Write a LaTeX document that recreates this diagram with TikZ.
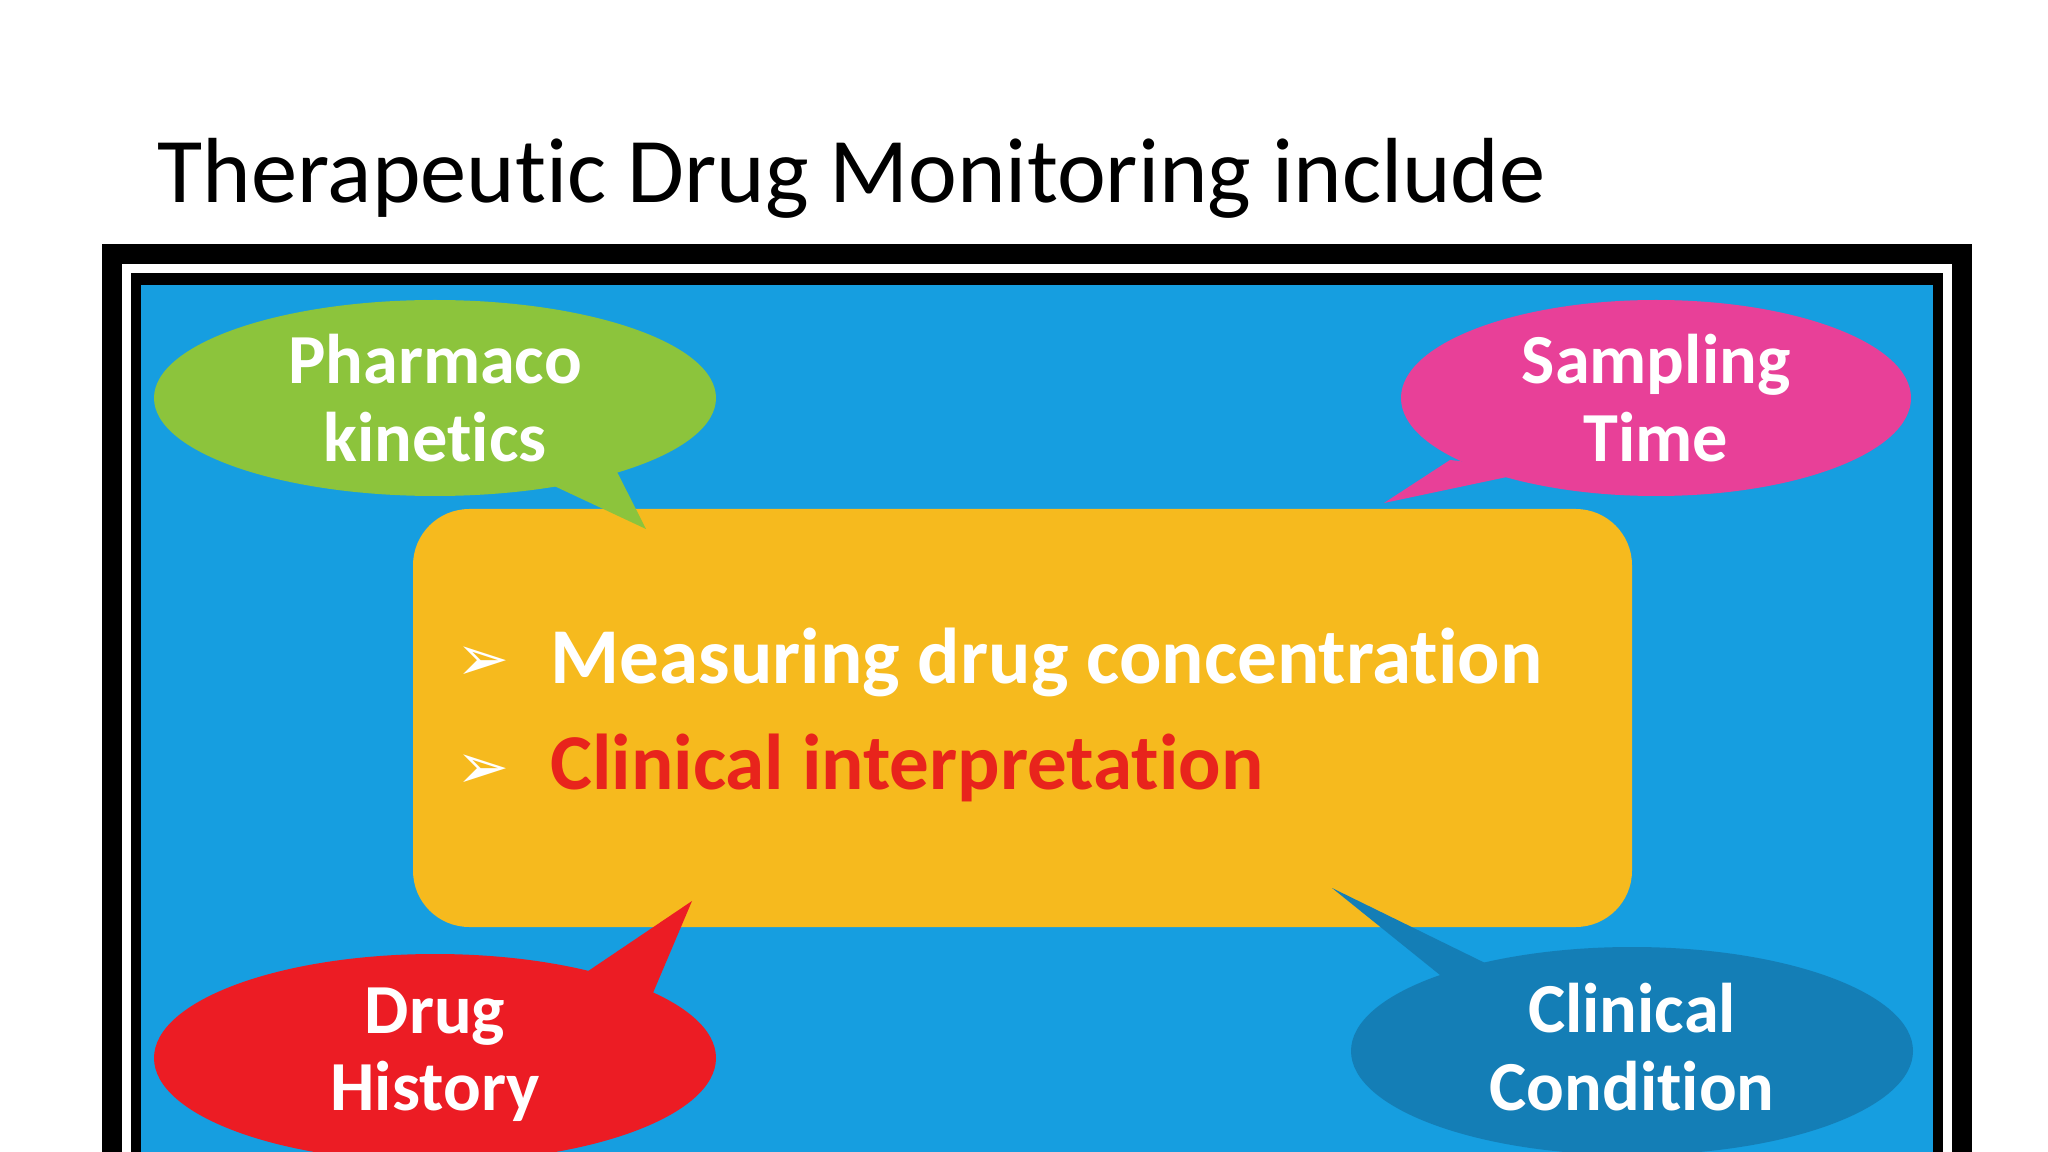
\documentclass[tikz,border=0pt]{standalone}
\usepackage{fontspec}
\setmainfont{Carlito}[Ligatures={NoCommon}]
\newfontfamily\symfont{DejaVu Sans}
\definecolor{bg}{RGB}{22,158,224}
\definecolor{orng}{RGB}{246,186,30}
\definecolor{grn}{RGB}{140,196,60}
\definecolor{pnk}{RGB}{232,64,152}
\definecolor{rd}{RGB}{236,28,36}
\definecolor{dblu}{RGB}{20,126,182}
\definecolor{txtred}{RGB}{232,36,28}
\begin{document}
\begin{tikzpicture}[x=0.01cm,y=-0.01cm,
  bubtxt/.style={text=white,font=\bfseries\fontsize{20}{24}\selectfont,align=center},
  item/.style={anchor=west,font=\bfseries\fontsize{22.5}{26}\selectfont}]
\useasboundingbox (0,0) rectangle (2048,1152);
\fill[white] (0,0) rectangle (2048,1152);
\node[anchor=base west,inner sep=0pt,font=\fontsize{26.3}{32}\selectfont] (title) at (157,203) {Therapeutic Drug Monitoring include};
% frame
\fill[black] (102,244) rectangle (1972,1152);
\fill[white] (122,264) rectangle (1952,1152);
\fill[black] (131,273) rectangle (1943,1152);
\fill[bg] (141,285) rectangle (1933,1152);
% center box
\fill[orng,rounded corners=16pt] (413,509) rectangle (1632,927);
\coordinate (box) at (1022,718);
% tails
\fill[grn] (520,470) -- (646,529) -- (610,458) -- cycle;
\fill[pnk] (1450,460) -- (1384,503) -- (1540,470) -- cycle;
\fill[rd] (560,990) -- (692,901) -- (650,1000) -- cycle;
\fill[dblu] (1440,975) -- (1332,888) -- (1530,985) -- cycle;
% bubbles
\fill[grn] (435,398) ellipse [x radius=281,y radius=98];
\fill[pnk] (1656,398) ellipse [x radius=255,y radius=98];
\fill[rd] (435,1058) ellipse [x radius=281,y radius=104];
\fill[dblu] (1632,1051) ellipse [x radius=281,y radius=104];
\node[bubtxt] (pk) at (435,398) {Pharmaco\\[-2pt]kinetics};
\node[bubtxt] (st) at (1656,398) {Sampling\\[-2pt]Time};
\node[bubtxt] (dh) at (435,1055) {Drug\\[-2pt]History};
\node[bubtxt] (cc) at (1632,1047) {Clinical\\[-2pt]Condition};
% items
\node[text=white,font=\symfont\fontsize{18}{20}\selectfont] (a1) at (483,664) {➢};
\node[text=white,font=\symfont\fontsize{18}{20}\selectfont] (a2) at (483,772) {➢};
\node[item,text=white] (m1) at (538,662) {Measuring drug concentration};
\node[item,text=txtred] (m2) at (538,768) {Clinical interpretation};
\end{tikzpicture}
\end{document}
